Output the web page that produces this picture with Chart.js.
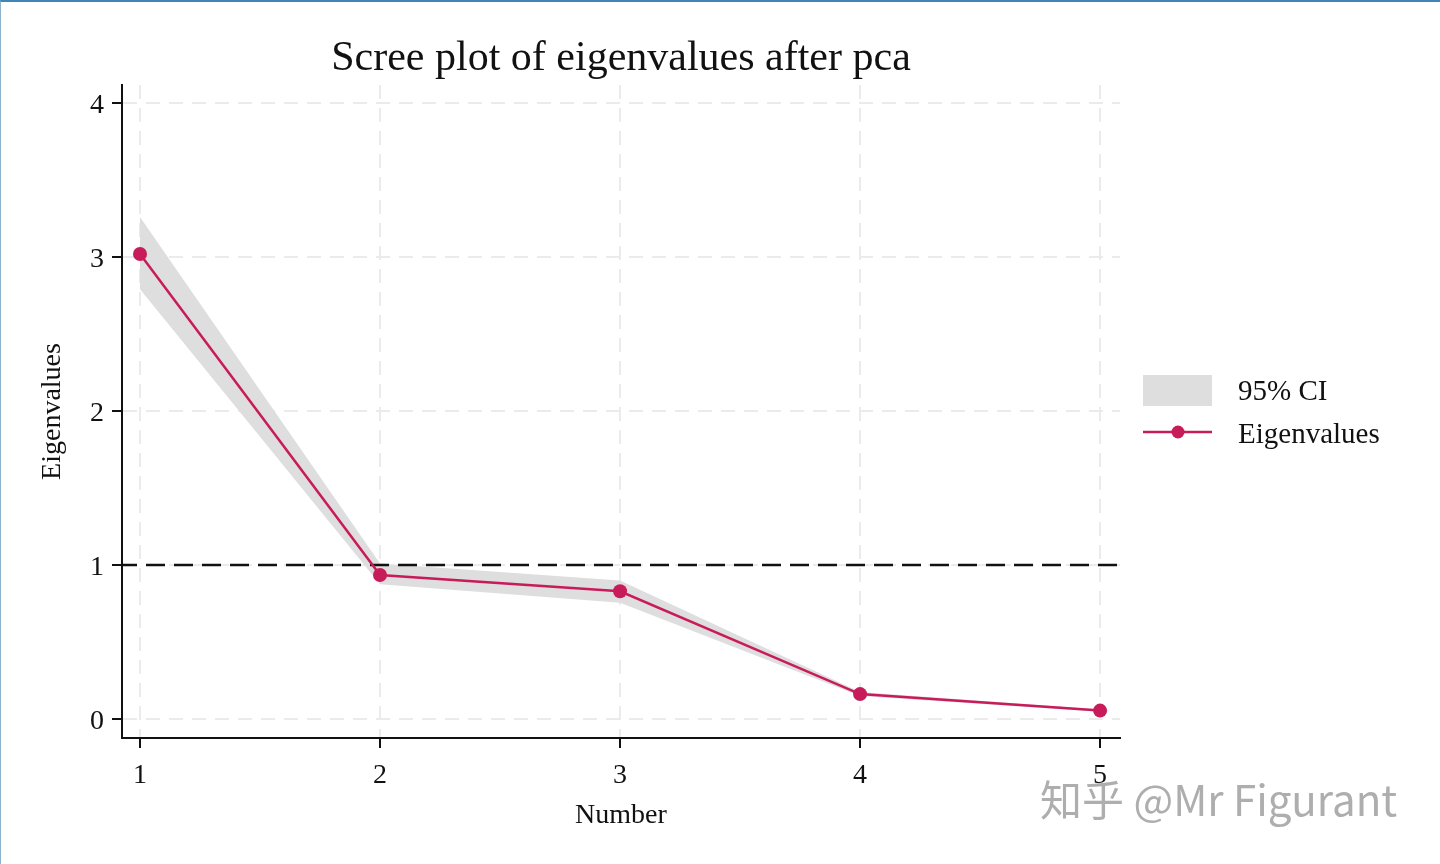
<!DOCTYPE html>
<html>
<head>
<meta charset="utf-8">
<title>Scree plot of eigenvalues after pca</title>
<script src="https://cdn.jsdelivr.net/npm/chart.js@4.4.1/dist/chart.umd.min.js"></script>
<style>
  html, body { margin: 0; padding: 0; background: #fff; }
  #wrap { position: relative; width: 1440px; height: 864px; }
  #frame { position: absolute; left: 0; top: 0; width: 1440px; height: 864px;
           border-top: 2px solid #3f86b4; border-left: 1px solid #8fb3cc;
           box-sizing: border-box; pointer-events: none; }
</style>
</head>
<body>
<div id="wrap">
  <canvas id="scree" width="1440" height="864"></canvas>
  <div id="frame"></div>
</div>
<script>
(function(){
  // values
  const components = [1, 2, 3, 4, 5];
  const eigenvalues = [3.02, 0.935, 0.83, 0.162, 0.055];
  const ciUpper = [3.26, 1.01, 0.90, 0.175, 0.062];
  const ciLower = [2.79, 0.875, 0.755, 0.150, 0.048];
  const xTicks = [1, 2, 3, 4, 5];
  const yTicks = [0, 1, 2, 3, 4];
  const referenceLine = 1;

  const xMin = 0.925, xMax = 5.083;
  const yMin = -0.123, yMax = 4.117;

  const serif = "'Liberation Serif', 'DejaVu Serif', serif";
  const lineColor = '#c81c5a';
  const bandColor = '#dedede';

  const pts = (ys) => components.map((x, i) => ({ x: x, y: ys[i] }));

  // title, legend and watermark drawn around the plot
  const extras = {
    id: 'extras',
    afterDraw(chart) {
      const ctx = chart.ctx;
      const area = chart.chartArea;
      ctx.save();
      ctx.fillStyle = '#111';
      ctx.textAlign = 'center';
      ctx.textBaseline = 'middle';
      ctx.font = '42px ' + serif;
      ctx.fillText('Scree plot of eigenvalues after pca', (area.left + area.right) / 2, 59);

      // legend
      ctx.fillStyle = bandColor;
      ctx.fillRect(1143, 375, 69, 31);
      ctx.strokeStyle = lineColor;
      ctx.lineWidth = 2.5;
      ctx.beginPath();
      ctx.moveTo(1143, 432);
      ctx.lineTo(1212, 432);
      ctx.stroke();
      ctx.fillStyle = lineColor;
      ctx.beginPath();
      ctx.arc(1178, 432, 6.5, 0, Math.PI * 2);
      ctx.fill();
      ctx.fillStyle = '#111';
      ctx.textAlign = 'left';
      ctx.font = '29px ' + serif;
      ctx.fillText('95% CI', 1238, 392);
      ctx.fillText('Eigenvalues', 1238, 435);

      // watermark
      ctx.font = "42px 'Noto Sans CJK SC', 'Noto Sans', sans-serif";
      ctx.fillStyle = 'rgba(160,160,160,0.85)';
      ctx.fillText('知乎 @Mr Figurant', 1040, 800);
      ctx.restore();
    }
  };

  new Chart(document.getElementById('scree').getContext('2d'), {
    type: 'scatter',
    data: {
      datasets: [
        {
          label: 'Eigenvalues',
          data: pts(eigenvalues),
          showLine: true,
          borderColor: lineColor,
          backgroundColor: lineColor,
          borderWidth: 2.5,
          pointRadius: 7,
          pointBorderWidth: 0,
          order: 0
        },
        {
          label: 'reference',
          data: [{ x: xMin, y: referenceLine }, { x: xMax, y: referenceLine }],
          showLine: true,
          borderColor: '#111',
          borderWidth: 2.5,
          borderDash: [19, 9],
          borderDashOffset: 4,
          pointRadius: 0,
          order: 1
        },
        {
          label: '95% CI',
          data: pts(ciUpper),
          showLine: true,
          borderWidth: 0,
          borderColor: bandColor,
          backgroundColor: bandColor,
          pointRadius: 0,
          fill: '+1',
          order: 2
        },
        {
          label: 'ci-lower',
          data: pts(ciLower),
          showLine: true,
          borderWidth: 0,
          borderColor: bandColor,
          pointRadius: 0,
          fill: false,
          order: 3
        }
      ]
    },
    options: {
      responsive: false,
      animation: false,
      devicePixelRatio: 1,
      layout: { padding: { left: 0, top: 85, right: 320, bottom: 0 } },
      plugins: {
        legend: { display: false },
        title: { display: false },
        tooltip: { enabled: false }
      },
      scales: {
        x: {
          type: 'linear',
          min: xMin,
          max: xMax,
          afterBuildTicks: (s) => { s.ticks = xTicks.map(v => ({ value: v })); },
          afterFit: (s) => { s.height = 126; },
          grid: { color: '#ebebeb', lineWidth: 2, tickColor: '#111', tickWidth: 2, tickLength: 10 },
          border: { color: '#111', width: 2, dash: [14, 9] },
          ticks: { color: '#111', padding: 11, font: { family: serif, size: 28 }, maxRotation: 0 },
          title: { display: true, text: 'Number', color: '#111', font: { family: serif, size: 28 }, padding: { top: 0, bottom: 32 } }
        },
        y: {
          type: 'linear',
          min: yMin,
          max: yMax,
          afterBuildTicks: (s) => { s.ticks = yTicks.map(v => ({ value: v })); },
          afterFit: (s) => { s.width = 122; },
          grid: { color: '#ebebeb', lineWidth: 2, tickColor: '#111', tickWidth: 2, tickLength: 10 },
          border: { color: '#111', width: 2, dash: [14, 9] },
          ticks: { color: '#111', padding: 8, labelOffset: 3, font: { family: serif, size: 28 } },
          title: { display: true, text: 'Eigenvalues', color: '#111', font: { family: serif, size: 28 }, padding: { top: 36, bottom: 0 } }
        }
      }
    },
    plugins: [extras]
  });
})();
</script>
</body>
</html>
